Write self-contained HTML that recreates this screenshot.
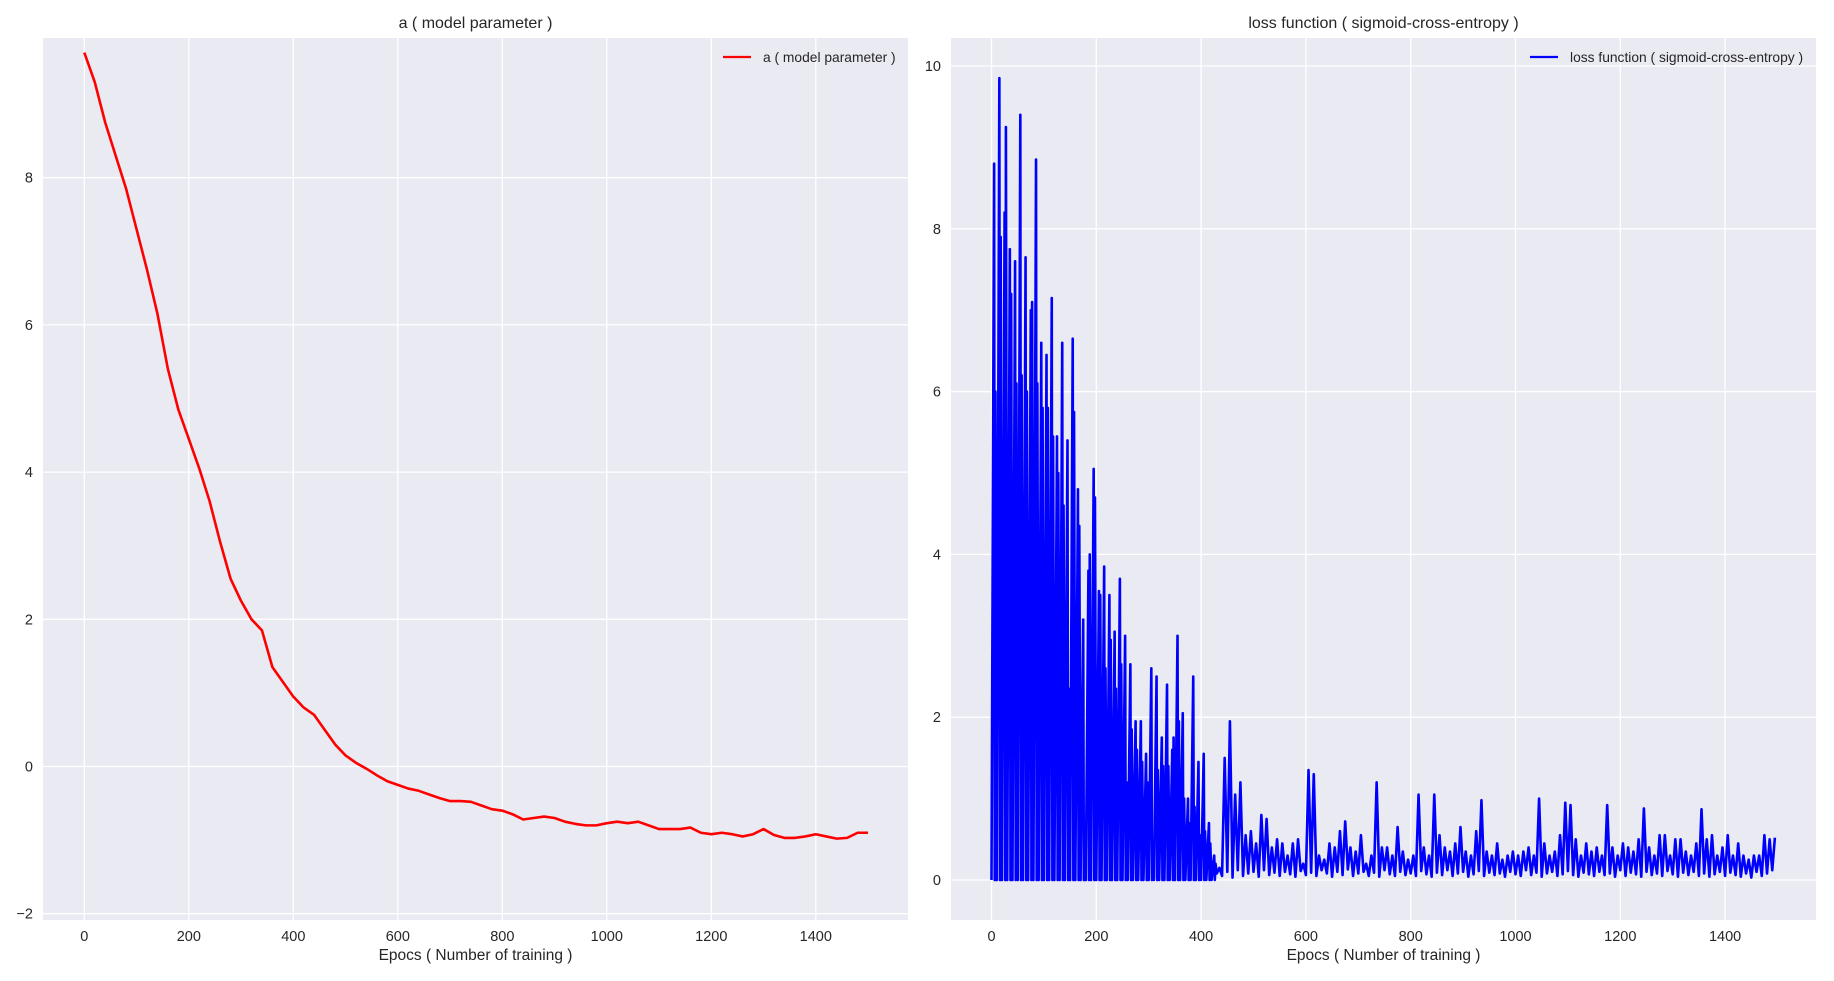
<!DOCTYPE html>
<html><head><meta charset="utf-8"><style>
html,body{margin:0;padding:0;background:#fff;}
svg{display:block;font-family:"Liberation Sans",Arial,sans-serif;}
</style></head><body>
<svg id="fig" width="1834" height="981" viewBox="0 0 1834 981"></svg>
<script>
// ---- data ----
const xTicks = [0,200,400,600,800,1000,1200,1400];
const leftYTicks = [-2,0,2,4,6,8];
const rightYTicks = [0,2,4,6,8,10];
const paramEpochStep = 20;
const paramValues = [9.7,9.3,8.75,8.3,7.85,7.3,6.75,6.15,5.4,4.85,4.45,4.05,3.6,3.05,2.55,2.25,2.0,1.85,1.35,1.15,0.95,0.8,0.7,0.5,0.3,0.15,0.05,-0.03,-0.12,-0.2,-0.25,-0.3,-0.33,-0.38,-0.43,-0.47,-0.47,-0.48,-0.53,-0.58,-0.6,-0.65,-0.72,-0.7,-0.68,-0.7,-0.75,-0.78,-0.8,-0.8,-0.77,-0.75,-0.77,-0.75,-0.8,-0.85,-0.85,-0.85,-0.83,-0.9,-0.92,-0.9,-0.92,-0.95,-0.92,-0.85,-0.93,-0.97,-0.97,-0.95,-0.92,-0.95,-0.98,-0.97,-0.9,-0.9];
const lossEpochStep = 10;
const lossHigh = [8.8,9.85,8.2,7.75,7.6,9.4,7.65,7.0,8.85,6.6,6.45,7.15,5.45,6.6,5.4,6.65,4.8,3.2,3.8,5.05,
3.55,3.85,3.5,3.05,3.7,3.0,2.65,1.95,1.95,1.55,2.6,2.5,1.75,2.4,1.6,3.0,2.05,1.0,2.5,1.45,
1.55,0.7,0.3,0.15,1.5,1.95,1.05,1.2,0.55,0.6,0.45,0.8,0.75,0.4,0.5,0.45,0.3,0.45,0.5,0.2,
1.35,1.3,0.3,0.25,0.45,0.4,0.6,0.72,0.4,0.35,0.55,0.2,0.3,1.2,0.4,0.4,0.3,0.65,0.35,0.25,
0.3,1.05,0.4,0.3,1.05,0.55,0.4,0.35,0.45,0.65,0.35,0.3,0.6,0.98,0.35,0.3,0.45,0.25,0.3,0.35,
0.3,0.35,0.4,0.3,1.0,0.45,0.3,0.35,0.55,0.95,0.92,0.5,0.3,0.45,0.35,0.4,0.3,0.92,0.4,0.3,
0.45,0.4,0.35,0.5,0.88,0.4,0.3,0.55,0.55,0.3,0.5,0.5,0.35,0.3,0.45,0.87,0.5,0.55,0.3,0.4,
0.55,0.3,0.45,0.3,0.25,0.3,0.3,0.55,0.5,0.52];
// extra peaks in the dense early region (epoch 10i+7.5)
const lossFill = [6.0,7.9,9.25,7.2,6.1,6.2,6.0,7.1,6.1,5.8,5.8,5.45,5.0,4.6,2.35,5.75,4.35,0,4.0,4.7,
3.5,2.6,2.95,2.35,2.65,1.2,1.85,1.6,1.45,1.2,0.3,1.35,1.4,1.4,1.75,1.95,1.0,0.7,0.9,0.55,
0.6,0.45,0.2];
const lossLow = [0,0,0,0,0,0,0,0,0,0,0,0,0,0,0,0,0,0,0,0,
0,0,0,0,0,0,0,0,0,0,0,0,0,0,0,0,0,0,0,0,
0,0,0,0.08,0.05,0.1,0.03,0.12,0.05,0.08,0.1,0.04,0.12,0.06,0.09,0.05,0.1,0.07,0.04,0.11,
0.06,0.09,0.05,0.12,0.08,0.04,0.1,0.06,0.13,0.05,0.08,0.1,0.05,0.09,0.04,0.12,0.07,0.05,0.1,0.06,
0.08,0.05,0.11,0.07,0.04,0.09,0.06,0.12,0.05,0.08,0.1,0.04,0.07,0.11,0.05,0.09,0.06,0.08,0.04,0.1,
0.07,0.05,0.12,0.06,0.09,0.04,0.08,0.1,0.05,0.07,0.11,0.06,0.04,0.09,0.07,0.05,0.1,0.06,0.08,0.04,
0.12,0.05,0.09,0.07,0.04,0.1,0.06,0.08,0.05,0.11,0.07,0.04,0.09,0.06,0.1,0.05,0.08,0.04,0.07,0.1,
0.05,0.09,0.06,0.04,0.08,0.03,0.1,0.05,0.08,0.12];

const NS="http://www.w3.org/2000/svg";
const svg=document.getElementById('fig');
function mk(tag,attrs,parent){const e=document.createElementNS(NS,tag);for(const k in attrs)e.setAttribute(k,attrs[k]);(parent||svg).appendChild(e);return e;}

function drawAxes(o){
  const g=mk('g',{});
  
  
  const bg=mk('rect',{x:o.L,y:o.T,width:o.R-o.L,height:o.B-o.T,fill:'#EAEAF2'},g);
  
  
  const sx=v=>o.x0px+(v)*o.xpu, sy=v=>o.y0px-(v)*o.ypu;
  xTicks.forEach(t=>{
    const l=mk('line',{x1:sx(t),x2:sx(t),y1:o.T,y2:o.B,stroke:'#fff','stroke-width':1.3},g);
    
    
    const tx=mk('text',{x:sx(t),y:o.B+21,'text-anchor':'middle','font-size':14.5,fill:'#262626'},g);
    tx.textContent=t;
    
    
  });
  o.yTicks.forEach(t=>{
    const l=mk('line',{x1:o.L,x2:o.R,y1:sy(t),y2:sy(t),stroke:'#fff','stroke-width':1.3},g);
    
    
    const tx=mk('text',{x:o.L-10,y:sy(t)+5,'text-anchor':'end','font-size':14.5,fill:'#262626'},g);
    tx.textContent=(t<0?'\u2212'+(-t):t);
    
    
  });
  const ti=mk('text',{x:(o.L+o.R)/2,y:o.T-10,'text-anchor':'middle','font-size':16,fill:'#262626'},g);
  ti.textContent=o.title;
  
  
  const xl=mk('text',{x:(o.L+o.R)/2,y:o.B+40,'text-anchor':'middle','font-size':15.5,fill:'#262626'},g);
  xl.textContent='Epocs ( Number of training )';
  
  
  const pl=mk('polyline',{points:o.pts.map(p=>sx(p[0]).toFixed(2)+','+sy(p[1]).toFixed(2)).join(' '),fill:'none',stroke:o.color,'stroke-width':o.lw,'stroke-linejoin':'round'},g);
  
  
  const lg=mk('g',{},g);
  
  
  mk('line',{x1:o.legX,x2:o.legX+28,y1:o.T+19,y2:o.T+19,stroke:o.color,'stroke-width':2.2},lg);
  const lt=mk('text',{x:o.legX+40,y:o.T+24,'font-size':13.8,fill:'#262626'},lg);
  lt.textContent=o.title;
}

const paramPts=paramValues.map((v,i)=>[i*paramEpochStep,v]);
drawAxes({name:'parameter-chart',L:43,R:908,T:38,B:920,x0px:84.3,xpu:104.5/200,y0px:766.5,ypu:73.6,
  yTicks:leftYTicks,title:'a ( model parameter )',pts:paramPts,color:'#ff0000',lw:2.6,seriesName:'parameter-line',legX:723});

const lossPts=[];
for(let i=0;i<lossHigh.length;i++){
  if(i<lossLow.length) lossPts.push([i*lossEpochStep,lossLow[i]]);
  lossPts.push([i*lossEpochStep+lossEpochStep/2,lossHigh[i]]);
  if(i<lossFill.length){
    lossPts.push([i*lossEpochStep+lossEpochStep*0.62,lossLow[i]]);
    lossPts.push([i*lossEpochStep+lossEpochStep*0.75,lossFill[i]]);
  }
}
drawAxes({name:'loss-chart',L:951,R:1816,T:38,B:920,x0px:991.5,xpu:104.8/200,y0px:880,ypu:81.4,
  yTicks:rightYTicks,title:'loss function ( sigmoid-cross-entropy )',pts:lossPts,color:'#0000ff',lw:2.6,seriesName:'loss-line',legX:1530});
</script>
</body></html>
